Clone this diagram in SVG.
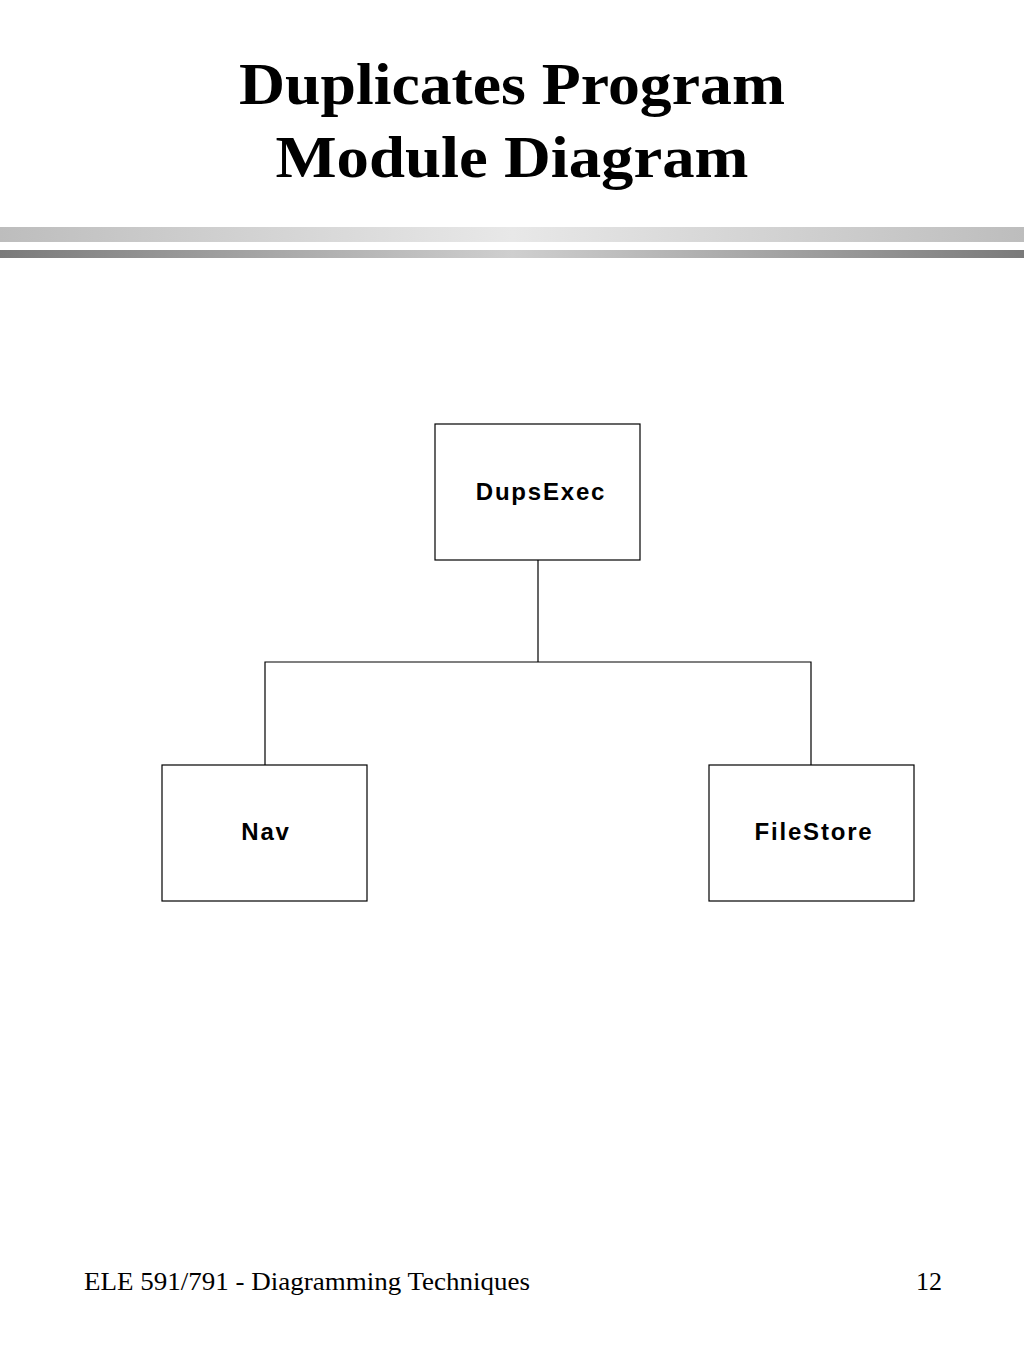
<svg xmlns="http://www.w3.org/2000/svg" width="1024" height="1365" viewBox="0 0 1024 1365">
<defs>
<linearGradient id="g1" x1="0" x2="1" y1="0" y2="0"><stop offset="0" stop-color="#bdbdbd"/><stop offset="0.5" stop-color="#e8e8e8"/><stop offset="1" stop-color="#bdbdbd"/></linearGradient>
<linearGradient id="g2" x1="0" x2="1" y1="0" y2="0"><stop offset="0" stop-color="#7a7a7a"/><stop offset="0.5" stop-color="#cfcfcf"/><stop offset="1" stop-color="#7a7a7a"/></linearGradient>
<style>
.box{fill:#fff;stroke:#000;stroke-width:1.2}
.lbl{font-family:"Liberation Sans",Arial,sans-serif;font-weight:bold;font-size:24px;text-anchor:middle;letter-spacing:1.8px}
.title{font-family:"Liberation Serif","Times New Roman",serif;font-weight:bold;font-size:60px;text-anchor:middle}
.foot{font-family:"Liberation Serif","Times New Roman",serif;font-size:26px}
</style>
</defs>
<rect width="1024" height="1365" fill="#fff"/>
<text class="title" x="512" y="104" textLength="546" lengthAdjust="spacingAndGlyphs">Duplicates Program</text>
<text class="title" x="512" y="177" textLength="473" lengthAdjust="spacingAndGlyphs">Module Diagram</text>
<rect x="0" y="227" width="1024" height="15" fill="url(#g1)"/>
<rect x="0" y="250" width="1024" height="8" fill="url(#g2)"/>
<g id="connectors" fill="none" stroke="#000" stroke-width="1.2">
<path d="M538 560V662M265 765V662H811V765"/>
</g>
<g id="DupsExec"><rect class="box" x="435" y="424" width="205" height="136"/><text class="lbl" x="541" y="500">DupsExec</text></g>
<g id="Nav"><rect class="box" x="162" y="765" width="205" height="136"/><text class="lbl" x="266" y="840">Nav</text></g>
<g id="FileStore"><rect class="box" x="709" y="765" width="205" height="136"/><text class="lbl" x="814" y="840">FileStore</text></g>
<text class="foot" x="84" y="1290" textLength="446" lengthAdjust="spacingAndGlyphs">ELE 591/791 - Diagramming Techniques</text>
<text class="foot" x="942" y="1290" text-anchor="end">12</text>
</svg>
